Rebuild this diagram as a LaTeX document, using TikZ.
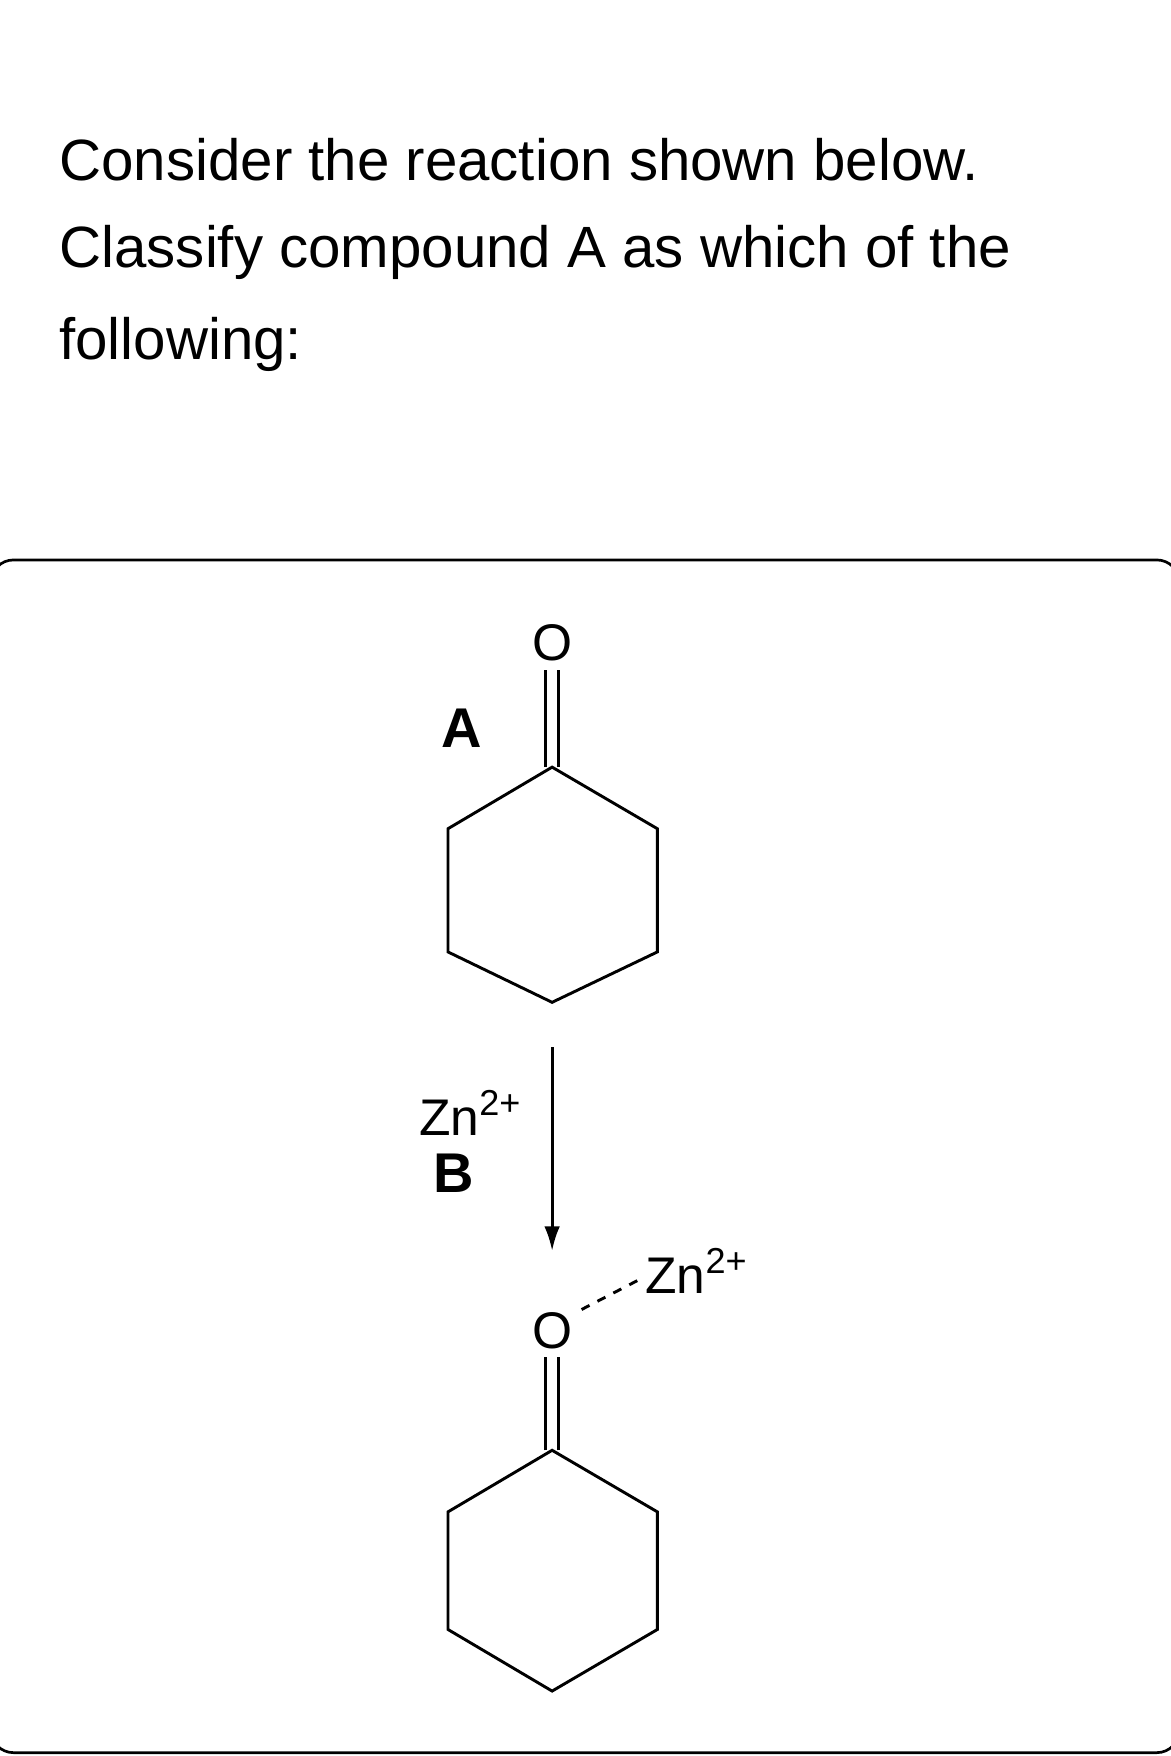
\documentclass[tikz,border=0pt]{standalone}
\usepackage{fontspec}
\setmainfont{Liberation Sans}
\usetikzlibrary{arrows.meta}
\begin{document}
\begin{tikzpicture}[x=0.5pt,y=-0.5pt,
  bond/.style={line width=1.3pt},
  q/.style={anchor=west,font=\fontsize{26}{30}\selectfont},
  atom/.style={font=\fontsize{23}{26}\selectfont,inner sep=1pt},
  lab/.style={font=\fontsize{25}{28}\selectfont\bfseries,inner sep=1pt}]
\useasboundingbox (0,0) rectangle (1045,1568);
\fill[white] (0,0) rectangle (1045,1568);
\node[q] (t1) at (46,143) {Consider the reaction shown below.};
\node[q] (t2) at (46,225) {Classify compound A as which of the};
\node[q] (t3) at (46,308) {following:};
\draw[line width=1.2pt,rounded corners=10] (-8,500) -- (1053,500) -- (1053,1565) -- (-8,1565) -- cycle;
% molecule A
\node[atom] (o1) at (493,574) {O};
\node[lab] (lA) at (412,650) {A};
\draw[bond] (493,685) -- (587,740) -- (587,850) -- (493,895) -- (400,850) -- (400,740) -- cycle;
\draw[bond] (487,685) -- (487,598) (499,685) -- (499,598);
% arrow
\coordinate (a1) at (493,935); \coordinate (a2) at (493,1117);
\draw[bond,-{Latex[length=11pt,width=7pt]}] (a1) -- (a2);
\node[atom] (zn1) at (420,994) {Zn\textsuperscript{2+}};
\node[lab] (lB) at (405,1048) {B};
% product
\node[atom] (o2) at (493,1188) {O};
\node[atom] (zn2) at (622,1135) {Zn\textsuperscript{2+}};
\draw[bond,dashed,dash pattern=on 4pt off 4pt] ([xshift=3pt]o2.north east) -- ([yshift=-3pt]zn2.west);
\draw[bond] (493,1295) -- (587,1350) -- (587,1455) -- (493,1510) -- (400,1455) -- (400,1350) -- cycle;
\draw[bond] (487,1295) -- (487,1212) (499,1295) -- (499,1212);
\end{tikzpicture}
\end{document}
